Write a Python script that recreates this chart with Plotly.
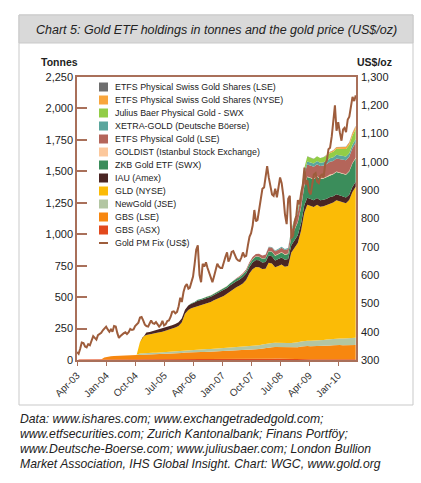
import pandas as pd
import plotly.graph_objects as go

# monthly ETF holdings (tonnes), Apr-03 .. Jun-10, one row per year
gbs_asx = [
    3, 3, 3, 4, 4, 4, 4, 4, 4,
    4, 4, 4, 4, 4, 4, 4, 4, 4, 4, 4, 4,
    4, 4, 4, 4, 4, 4, 4, 4, 4, 4, 4, 4,
    4, 4, 4, 4, 4, 4, 4, 4, 4, 4, 4, 4,
    4, 4, 4, 4, 5, 5, 5, 5, 5, 5, 6, 6,
    7, 8, 9, 10, 12, 11, 9, 8, 8, 8, 7, 7,
    7, 7, 6, 6, 6, 6, 6, 6, 6, 6, 6, 6,
    6, 6, 6, 6, 6, 6,
]
gbs_lse = [
    0, 0, 0, 0, 0, 0, 0, 0, 15,
    22, 25, 27, 28, 32, 30, 31, 32, 33, 35, 37, 38,
    38, 39, 40, 40, 41, 41, 42, 43, 45, 48, 50, 52,
    55, 57, 58, 58, 59, 60, 60, 61, 62, 63, 64, 65,
    66, 67, 68, 69, 70, 71, 72, 73, 75, 77, 79, 82,
    86, 90, 92, 92, 91, 92, 95, 94, 92, 90, 91, 95,
    100, 104, 105, 104, 104, 105, 106, 107, 108, 110, 112, 114,
    113, 112, 112, 111, 112, 113,
]
newgold = [
    0, 0, 0, 0, 0, 0, 0, 0, 0,
    0, 0, 0, 0, 0, 0, 0, 0, 0, 0, 10, 12,
    13, 13, 14, 14, 15, 15, 15, 16, 16, 17, 17, 18,
    18, 19, 20, 20, 21, 21, 22, 22, 22, 23, 23, 24,
    24, 25, 25, 26, 26, 26, 27, 28, 28, 29, 30, 30,
    31, 32, 33, 34, 34, 35, 35, 35, 36, 37, 38, 39,
    40, 42, 43, 44, 44, 45, 46, 47, 48, 49, 50, 51,
    52, 53, 54, 55, 57, 58,
]
gld = [
    0, 0, 0, 0, 0, 0, 0, 0, 0,
    0, 0, 0, 0, 0, 0, 0, 0, 0, 0, 90, 130,
    144, 146, 150, 156, 158, 165, 172, 178, 186, 190, 200, 225,
    290, 318, 330, 338, 350, 353, 362, 368, 374, 385, 395, 407,
    415, 430, 448, 465, 478, 490, 505, 530, 580, 610, 625, 620,
    600, 595, 640, 632, 600, 610, 620, 605, 612, 720, 762, 790,
    880, 1020, 1080, 1072, 1062, 1078, 1060, 1062, 1070, 1082, 1085, 1100,
    1090, 1085, 1075, 1100, 1160, 1200,
]
iau = [
    0, 0, 0, 0, 0, 0, 0, 0, 0,
    0, 0, 0, 0, 0, 0, 0, 0, 0, 0, 0, 0,
    20, 21, 22, 22, 23, 24, 24, 25, 26, 27, 29, 31,
    33, 35, 36, 37, 38, 39, 40, 40, 41, 42, 43, 44,
    45, 46, 47, 48, 48, 49, 50, 51, 52, 54, 55, 55,
    52, 54, 56, 56, 55, 55, 56, 55, 55, 58, 60, 60,
    60, 60, 56, 55, 55, 54, 53, 52, 50, 49, 48, 47,
    46, 45, 44, 42, 41, 40,
]
zkb = [
    0, 0, 0, 0, 0, 0, 0, 0, 0,
    0, 0, 0, 0, 0, 0, 0, 0, 0, 0, 0, 0,
    0, 0, 0, 0, 0, 0, 0, 0, 0, 0, 0, 0,
    0, 0, 3, 5, 7, 8, 9, 10, 10, 11, 12, 13,
    14, 15, 16, 17, 18, 19, 20, 21, 23, 25, 27, 28,
    28, 30, 34, 36, 37, 38, 40, 40, 40, 60, 85, 105,
    125, 150, 165, 165, 166, 168, 170, 170, 172, 174, 175, 176,
    178, 180, 182, 184, 186, 188,
]
goldist = [
    0, 0, 0, 0, 0, 0, 0, 0, 0,
    0, 0, 0, 0, 0, 0, 0, 0, 0, 0, 0, 0,
    0, 0, 0, 0, 0, 0, 0, 0, 0, 0, 0, 0,
    0, 0, 0, 0, 0, 0, 0, 1, 1, 1, 1, 1,
    1, 1, 1, 1, 1, 2, 2, 2, 2, 2, 2, 2,
    2, 2, 3, 3, 3, 3, 3, 3, 3, 3, 4, 4,
    4, 4, 4, 4, 4, 4, 4, 4, 4, 4, 4, 4,
    4, 4, 4, 4, 4, 4,
]
etfs_gold_lse = [
    0, 0, 0, 0, 0, 0, 0, 0, 0,
    0, 0, 0, 0, 0, 0, 0, 0, 0, 0, 0, 0,
    0, 0, 0, 0, 0, 0, 0, 0, 0, 0, 0, 0,
    0, 0, 0, 0, 0, 0, 0, 0, 0, 0, 0, 0,
    0, 0, 0, 2, 4, 6, 8, 10, 13, 16, 19, 22,
    24, 26, 30, 31, 32, 33, 35, 35, 36, 50, 60, 68,
    78, 90, 95, 96, 96, 97, 98, 99, 100, 102, 103, 105,
    108, 110, 112, 114, 117, 120,
]
xetra_gold = [
    0, 0, 0, 0, 0, 0, 0, 0, 0,
    0, 0, 0, 0, 0, 0, 0, 0, 0, 0, 0, 0,
    0, 0, 0, 0, 0, 0, 0, 0, 0, 0, 0, 0,
    0, 0, 0, 0, 0, 0, 0, 0, 0, 0, 0, 0,
    0, 0, 0, 0, 0, 0, 0, 0, 0, 0, 0, 0,
    1, 2, 4, 5, 6, 7, 8, 8, 9, 12, 15, 18,
    20, 22, 24, 24, 25, 25, 26, 26, 27, 28, 28, 28,
    28, 28, 28, 28, 28, 28,
]
julius_baer = [
    0, 0, 0, 0, 0, 0, 0, 0, 0,
    0, 0, 0, 0, 0, 0, 0, 0, 0, 0, 0, 0,
    0, 0, 0, 0, 0, 0, 0, 0, 0, 0, 0, 0,
    0, 0, 0, 0, 0, 0, 0, 0, 0, 0, 0, 0,
    0, 0, 0, 0, 0, 0, 0, 0, 0, 0, 0, 0,
    0, 0, 0, 0, 0, 0, 0, 0, 0, 4, 8, 12,
    18, 28, 40, 38, 37, 37, 37, 38, 40, 42, 45, 48,
    52, 56, 60, 65, 72, 79,
]
swiss_nyse = [
    0, 0, 0, 0, 0, 0, 0, 0, 0,
    0, 0, 0, 0, 0, 0, 0, 0, 0, 0, 0, 0,
    0, 0, 0, 0, 0, 0, 0, 0, 0, 0, 0, 0,
    0, 0, 0, 0, 0, 0, 0, 0, 0, 0, 0, 0,
    0, 0, 0, 0, 0, 0, 0, 0, 0, 0, 0, 0,
    0, 0, 0, 0, 0, 0, 0, 0, 0, 0, 0, 0,
    0, 0, 0, 0, 0, 0, 0, 0, 4, 8, 10, 12,
    14, 15, 16, 18, 20, 22,
]
swiss_lse = [
    0, 0, 0, 0, 0, 0, 0, 0, 0,
    0, 0, 0, 0, 0, 0, 0, 0, 0, 0, 0, 0,
    0, 0, 0, 0, 0, 0, 0, 0, 0, 0, 0, 0,
    0, 0, 0, 0, 0, 0, 0, 0, 0, 0, 0, 0,
    0, 0, 0, 0, 0, 0, 0, 0, 0, 0, 0, 0,
    0, 0, 0, 0, 0, 0, 0, 0, 0, 0, 0, 0,
    0, 0, 1, 1, 1, 1, 1, 2, 2, 2, 2, 3,
    3, 3, 3, 4, 4, 4,
]

# gold PM fix (US$/oz), twice a month, Apr-03 .. Jun-10
gold_price = [
    328, 322, 340, 362, 360, 348, 345, 356, 352, 372, 384, 378, 372, 388, 392, 396, 405, 412,
    418, 408, 400, 408, 400, 420, 418, 395, 378, 385, 392, 395,
    398, 392, 398, 410, 406, 408, 420, 425, 432, 450, 452, 440,
    425, 420, 418, 430, 440, 430, 428, 434, 425, 418, 425, 438,
    422, 426, 438, 440, 452, 470, 472, 465, 470, 490, 520, 505,
    540, 560, 568, 552, 555, 580, 595, 640, 690, 705, 600, 575,
    640, 630, 645, 625, 610, 590, 575, 595, 620, 640, 630, 625,
    625, 650, 665, 680, 648, 660, 682, 685, 670, 658, 652, 650,
    662, 680, 665, 668, 705, 735, 748, 775, 830, 790, 795, 830,
    870, 905, 910, 945, 985, 945, 915, 885, 880, 905, 875, 915,
    945, 925, 880, 815, 780, 870, 880, 730, 740, 790, 810, 865,
    850, 890, 920, 980, 920, 935, 895, 885, 915, 955, 960, 930,
    925, 950, 955, 945, 995, 1005, 1045, 1050, 1090, 1140, 1200, 1110,
    1140, 1105, 1075, 1115, 1120, 1105, 1150, 1160, 1195, 1230, 1215, 1235,
]

legend_names = [
    "ETFS Physical Swiss Gold Shares (LSE)",
    "ETFS Physical Swiss Gold Shares (NYSE)",
    "Julius Baer Physical Gold - SWX",
    "XETRA-GOLD (Deutsche Böerse)",
    "ETFS Physical Gold (LSE)",
    "GOLDIST (Istanbul Stock Exchange)",
    "ZKB Gold ETF (SWX)",
    "IAU (Amex)",
    "GLD (NYSE)",
    "NewGold (JSE)",
    "GBS (LSE)",
    "GBS (ASX)",
    "Gold PM Fix (US$)",
]
legend_colors = [
    "#6e6e6e", "#f9a63c", "#92cd47", "#5ba69d", "#b4655a", "#fcc89c",
    "#3b8d5b", "#4a2523", "#fbbb06", "#b3c6a2", "#f7870f", "#e2491d",
    "#9e5d3c",
]
# stacking order, bottom first
stack_values = [gbs_asx, gbs_lse, newgold, gld, iau, zkb, goldist,
                etfs_gold_lse, xetra_gold, julius_baer, swiss_nyse, swiss_lse]

months = pd.date_range("2003-04-01", "2010-06-01", freq="MS")
stack_dates = [m + pd.Timedelta(days=14) for m in months]
price_dates = []
for m in months:
    price_dates += [m, m + pd.Timedelta(days=15)]

for v in stack_values:
    assert len(v) == len(months), len(v)
assert len(gold_price) == len(price_dates)

FONT = "Liberation Sans, Arial, sans-serif"
FRAME = "#a9705a"
TEXT = "#222222"

# pixel -> paper helpers (plot area is x 77..356, y 77..360)
L, R, T, B = 77, 356, 77, 360
def px(x):
    return (x - L) / (R - L)
def py(y):
    return (B - y) / (B - T)

fig = go.Figure()

# gold price on y2, which plotly draws above the stacked areas
fig.add_trace(go.Scatter(
    x=price_dates, y=gold_price, yaxis="y2", mode="lines",
    name=legend_names[-1], line=dict(color=legend_colors[-1], width=2),
    showlegend=False))

stack_names = legend_names[:-1][::-1]
stack_colors = legend_colors[:-1][::-1]
for name, vals, color in zip(stack_names, stack_values, stack_colors):
    fig.add_trace(go.Scatter(
        x=stack_dates, y=vals, name=name, stackgroup="etf", mode="lines",
        line=dict(width=0, color=color), fillcolor=color, showlegend=False))

shapes = [
    # outer card and grey title band
    dict(type="rect", xref="paper", yref="paper", x0=px(19), x1=px(413),
         y0=py(405), y1=py(15), line=dict(color="#c9c9c9", width=1),
         fillcolor="rgba(0,0,0,0)", layer="below"),
    dict(type="rect", xref="paper", yref="paper", x0=px(19), x1=px(413),
         y0=py(43), y1=py(15), line=dict(color="#c9c9c9", width=1),
         fillcolor="#d9d9d9", layer="below"),
]
annotations = [
    dict(text="<i>Chart 5: Gold ETF holdings in tonnes and the gold price (US$/oz)</i>",
         x=px(216), y=py(30), xref="paper", yref="paper", showarrow=False,
         xanchor="center", yanchor="middle", font=dict(size=12.5, color=TEXT)),
    dict(text="<b>Tonnes</b>", x=px(39), y=py(62), xref="paper", yref="paper",
         showarrow=False, xanchor="left", yanchor="middle",
         font=dict(size=10.5, color=TEXT)),
    dict(text="<b>US$/oz</b>", x=px(394), y=py(62), xref="paper", yref="paper",
         showarrow=False, xanchor="right", yanchor="middle",
         font=dict(size=10.5, color=TEXT)),
]

# hand-built legend (plotly rows are too tall for this spacing)
for i, (name, color) in enumerate(zip(legend_names, legend_colors)):
    yc = 87 + 13 * i
    if i == len(legend_names) - 1:
        shapes.append(dict(type="line", xref="paper", yref="paper",
                           x0=px(99), x1=px(108), y0=py(yc), y1=py(yc),
                           line=dict(color=color, width=2)))
    else:
        shapes.append(dict(type="rect", xref="paper", yref="paper",
                           x0=px(99), x1=px(108), y0=py(yc + 4.5), y1=py(yc - 4.5),
                           line=dict(width=0), fillcolor=color))
    annotations.append(dict(text=name, x=px(113), y=py(yc), xref="paper",
                            yref="paper", showarrow=False, xanchor="left",
                            yanchor="middle", font=dict(size=8.9, color=TEXT)))

caption = [
    "Data: www.ishares.com; www.exchangetradedgold.com;",
    "www.etfsecurities.com; Zurich Kantonalbank; Finans Portföy;",
    "www.Deutsche-Boerse.com; www.juliusbaer.com; London Bullion",
    "Market Association, IHS Global Insight. Chart: WGC, www.gold.org",
]
for i, line in enumerate(caption):
    annotations.append(dict(text="<i>" + line + "</i>", x=px(18), y=py(419 + 15 * i),
                            xref="paper", yref="paper", showarrow=False,
                            xanchor="left", yanchor="middle",
                            font=dict(size=12.2, color=TEXT)))

fig.update_layout(
    width=421, height=483,
    margin=dict(l=L, r=421 - R, t=T, b=483 - B),
    paper_bgcolor="white", plot_bgcolor="white",
    font=dict(family=FONT, color=TEXT),
    showlegend=False,
    shapes=shapes, annotations=annotations,
    xaxis=dict(
        type="date", range=["2003-04-01", "2010-06-18"],
        tick0="2003-04-01", dtick="M9", tickformat="%b-%y", tickangle=-45,
        ticks="outside", ticklen=4, tickcolor=FRAME, tickwidth=1,
        showline=True, linecolor=FRAME, linewidth=1.5, mirror=True,
        showgrid=False, zeroline=False, tickfont=dict(size=10, color="#333333"),
    ),
    yaxis=dict(
        range=[0, 2250], tickvals=list(range(0, 2251, 250)), tickformat=",d",
        ticks="inside", ticklen=10, tickcolor=FRAME, tickwidth=1.5,
        showline=True, linecolor=FRAME, linewidth=1.5, mirror=True,
        showgrid=False, zeroline=False, tickfont=dict(size=11, color=TEXT),
    ),
    yaxis2=dict(
        overlaying="y", side="right", range=[300, 1300], dtick=100,
        tickformat=",d", ticks="", showline=False, showgrid=False,
        zeroline=False, ticklabelstandoff=4, tickfont=dict(size=11, color=TEXT),
    ),
)

# the page body has a default 8px margin; drop it so the figure fills the window
fig.write_html("out.html", config={"displayModeBar": False},
               post_script="document.body.style.margin='0';")
